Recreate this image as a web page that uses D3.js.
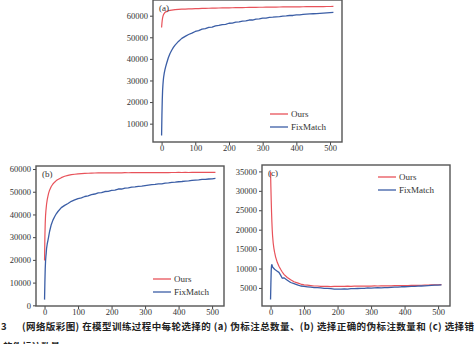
<!DOCTYPE html>
<html><head><meta charset="utf-8">
<script src="https://cdn.jsdelivr.net/npm/d3@7"></script>
<style>
html,body{margin:0;padding:0;background:#fff;}
svg{display:block;}
</style></head>
<body>
<svg id="chart" width="474" height="344"></svg>
<script>
const epochs = [0,1,2,3,4,5,6,8,10,12,15,20,25,30,35,40,50,60,70,80,90,100,110,120,130,140,150,160,170,180,190,200,210,220,230,240,250,260,270,280,290,300,310,320,330,340,350,360,370,380,390,400,410,420,430,440,450,460,470,480,490,500,510];
const xTicks = [0,100,200,300,400,500];
const seriesNames = ["Ours","FixMatch"];

// (a) total pseudo-labels
const oursA = [54500,56500,58000,59000,59700,60200,60600,61100,61500,61800,62000,62300,62500,62600,62700,62800,62900,63000,63080,63150,63200,63260,63300,63350,63400,63440,63480,63520,63560,63600,63630,63660,63690,63720,63750,63780,63800,63830,63850,63880,63900,63920,63950,63970,63990,64000,64020,64040,64060,64080,64100,64110,64130,64140,64160,64170,64190,64200,64220,64230,64250,64260,64280];
const fixA = [4500,14000,21000,25500,28000,30000,31500,33500,35000,36300,38000,40500,42500,44000,45300,46400,48100,49500,50400,51300,51900,52700,53100,53800,54000,54600,54700,55300,55500,55900,56000,56500,56600,57000,57100,57500,57600,58000,58000,58400,58500,58900,58900,59200,59300,59500,59600,59800,59900,60100,60100,60400,60400,60600,60700,60800,60900,61000,61100,61200,61300,61400,61500];
const yTicksA = [10000,20000,30000,40000,50000,60000];

// (b) correct pseudo-labels
const oursB = [19700,30000,36000,39500,41500,43000,44500,46500,48000,49300,50700,52300,53400,54200,54900,55400,56200,56800,57200,57500,57700,57900,58000,58100,58150,58200,58250,58300,58280,58320,58300,58350,58330,58360,58340,58380,58360,58400,58380,58420,58400,58430,58410,58450,58420,58460,58440,58470,58450,58480,58460,58490,58470,58500,58480,58510,58490,58500,58520,58500,58530,58510,58520];
const fixB = [2500,10000,16000,19500,21500,23000,25000,27000,28500,30000,32500,35500,37500,39000,40300,41300,43000,44000,44800,45800,46400,47000,47300,47900,48200,48700,49000,49500,49600,50100,50200,50600,50700,51200,51200,51600,51700,52000,52100,52400,52500,52700,52900,53100,53200,53500,53500,53800,53900,54100,54200,54400,54500,54700,54800,55000,55100,55200,55400,55400,55600,55700,55900];
const yTicksB = [0,10000,20000,30000,40000,50000,60000];

// (c) wrong pseudo-labels
const oursC = [35000,31000,27500,24500,22000,20000,18500,16500,15200,14200,13000,11600,10600,9800,9100,8500,7700,7100,6600,6300,6000,5800,5700,5600,5500,5500,5400,5400,5420,5350,5400,5380,5420,5400,5450,5420,5460,5450,5480,5470,5500,5480,5520,5500,5540,5530,5560,5550,5580,5570,5600,5620,5610,5640,5650,5680,5690,5720,5740,5770,5800,5820,5850];
const fixC = [2000,6000,9500,10800,11000,10700,10400,10200,10000,9800,9600,9300,9000,8300,7500,7600,7000,6400,6100,5800,5500,5400,5300,5200,5100,5100,5000,4900,4900,4800,4700,4700,4700,4750,4700,4800,4800,4850,4900,4900,5000,4950,5000,5050,5000,5100,5100,5150,5200,5200,5300,5300,5350,5400,5400,5450,5500,5550,5600,5650,5700,5750,5800];
const yTicksC = [5000,10000,15000,20000,25000,30000,35000];

const colors = ["#e8525a","#3b5ea6"];
const svg = d3.select("#chart");

function panel(cfg){
  const {left,right,top,bottom,ours,fix,yTicks,label,legX,legY} = cfg;
  const xs = d3.extent(epochs), xp = (xs[1]-xs[0])*0.05;
  const x = d3.scaleLinear().domain([xs[0]-xp, xs[1]+xp]).range([left,right]);
  const all = ours.concat(fix);
  const ys = d3.extent(all), yp = (ys[1]-ys[0])*0.05;
  const y = d3.scaleLinear().domain([ys[0]-yp, ys[1]+yp]).range([bottom,top]);
  const g = svg.append("g");
  const line = d3.line().x((d,i)=>x(epochs[i])).y(d=>y(d));
  [ours,fix].forEach((s,k)=>{
    g.append("path").datum(s).attr("d",line).attr("fill","none")
     .attr("stroke",colors[k]).attr("stroke-width",k?1.3:1.2).attr("stroke-linejoin","round");
  });
  const xa = g.append("g").attr("transform",`translate(0,${bottom})`)
    .call(d3.axisBottom(x).tickValues(xTicks).tickSize(3).tickPadding(0));
  const ya = g.append("g").attr("transform",`translate(${left},0)`)
    .call(d3.axisLeft(y).tickValues(yTicks).tickSize(3).tickPadding(2).tickFormat(d3.format("d")));
  [xa,ya].forEach(a=>{
    a.select(".domain").remove();
    a.selectAll("line").attr("stroke","#444");
    a.selectAll("text").attr("font-family","'Liberation Serif',serif").attr("font-size",8.5).attr("fill","#333");
  });
  g.append("rect").attr("x",left).attr("y",top).attr("width",right-left).attr("height",bottom-top)
    .attr("fill","none").attr("stroke","#555").attr("stroke-width",1.4);
  g.append("text").attr("x",left+6).attr("y",top+11).text(label)
    .attr("font-family","'Liberation Serif',serif").attr("font-size",9).attr("fill","#333");
  seriesNames.forEach((n,k)=>{
    const yy = legY + k*13;
    g.append("line").attr("x1",legX).attr("x2",legX+18).attr("y1",yy).attr("y2",yy)
      .attr("stroke",colors[k]).attr("stroke-width",1.3);
    g.append("text").attr("x",legX+21).attr("y",yy+3).text(n)
      .attr("font-family","'Liberation Serif',serif").attr("font-size",9).attr("fill","#333");
  });
}

panel({left:153,right:342,top:0,bottom:142,ours:oursA,fix:fixA,yTicks:yTicksA,label:"(a)",legX:270,legY:114});
panel({left:36,right:224,top:166,bottom:306,ours:oursB,fix:fixB,yTicks:yTicksB,label:"(b)",legX:153,legY:279});
panel({left:262,right:450,top:165,bottom:306,ours:oursC,fix:fixC,yTicks:yTicksC,label:"(c)",legX:378,legY:177});

const cap = svg.append("g").attr("font-family","'Noto Sans CJK SC',sans-serif").attr("font-weight","bold").attr("fill","#222");
cap.append("text").attr("x",1).attr("y",330).attr("font-size",9.5).text("3");
cap.append("text").attr("x",22).attr("y",330).attr("font-size",9.5)
  .attr("textLength",452).attr("lengthAdjust","spacing")
  .text("(网络版彩图) 在模型训练过程中每轮选择的 (a) 伪标注总数量、(b) 选择正确的伪标注数量和 (c) 选择错");
cap.append("text").attr("x",3).attr("y",350).attr("font-size",9.5).text("的伪标注数量");
</script>
</body></html>
